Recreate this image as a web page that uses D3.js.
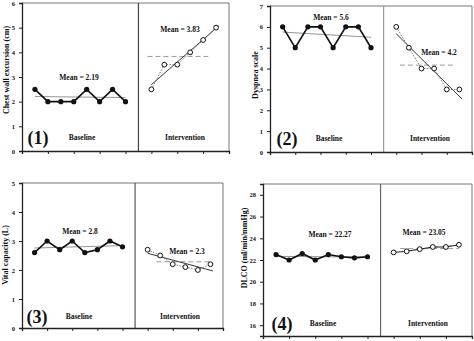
<!DOCTYPE html>
<html><head><meta charset="utf-8">
<script src="https://cdn.jsdelivr.net/npm/d3@7"></script>
<style>body{margin:0;background:#fff}svg{display:block}text{font-family:"Liberation Serif","Times New Roman",serif;font-weight:bold;fill:#111}</style>
</head><body>
<svg id="c" width="474" height="341"></svg>
<script>
// ---- data ----
const baseline1 = [2.5, 2, 2, 2, 2.5, 2, 2.5, 2];
const intervention1 = [2.5, 3.5, 3.5, 4, 4.5, 5];
const baseline2 = [6, 5, 6, 6, 5, 6, 6, 5];
const intervention2 = [6, 5, 4, 4, 3, 3];
const baseline3 = [2.6, 3.0, 2.7, 3.0, 2.6, 2.7, 3.0, 2.8];
const intervention3 = [2.7, 2.5, 2.2, 2.1, 2.0, 2.2];
const baseline4 = [22.5, 22.0, 22.6, 22.0, 22.5, 22.3, 22.2, 22.3];
const intervention4 = [22.7, 22.8, 23.0, 23.2, 23.2, 23.4];
const yTicks1 = [0, 1, 2, 3, 4, 5, 6];
const yTicks2 = [0, 1, 2, 3, 4, 5, 6, 7];
const yTicks3 = [0, 1, 2, 3, 4, 5];
const yTicks4 = [16, 18, 20, 22, 24, 26, 28];
const yLabels = ["Chest wall excursion (cm)", "Dyspnea scale", "Vital capacity (L)", "DLCO (ml/min/mmHg)"];
const meanLabels = [["Mean = 2.19", "Mean = 3.83"], ["Mean = 5.6", "Mean = 4.2"], ["Mean = 2.8", "Mean = 2.3"], ["Mean = 22.27", "Mean = 23.05"]];
const panelNames = ["(1)", "(2)", "(3)", "(4)"];
const phaseNames = ["Baseline", "Intervention"];
const xTicks = [0, 2, 4, 6, 8, 10, 12, 14, 16];

// ---- layout ----
const panels = [
  {b: baseline1, v: intervention1, ticks: yTicks1, dom: [0, 6], L: 22, R: 229, T: 3, B: 151, labX: 7, labY: 70,
   m1: [79, 80], m2: [180, 32], tag: [38, 144], ph: [82, 185, 140], meanExt: [9.7, 14.4], conn: "dot", div: "#444"},
  {b: baseline2, v: intervention2, ticks: yTicks2, dom: [0, 7], L: 270, R: 472, T: 6, B: 152, labX: 256, labY: 75,
   m1: [331, 20], m2: [439, 55], tag: [287, 145], ph: [329, 430, 141], meanExt: [10.3, 14.6], conn: "dot", div: "#999"},
  {b: baseline3, v: intervention3, ticks: yTicks3, dom: [0, 5], L: 22, R: 223, T: 183, B: 328, labX: 6, labY: 255,
   m1: [80, 234], m2: [187, 254], tag: [37, 323], ph: [79, 180, 319], meanExt: [10.7, 15], conn: "dot", div: "#555"},
  {b: baseline4, v: intervention4, ticks: yTicks4, dom: [15, 29], L: 263, R: 472, T: 184, B: 336, labX: 245, labY: 248,
   m1: [330, 237], m2: [424, 235], tag: [282, 330], ph: [323, 428, 326], meanExt: [10.5, 15], conn: "solid", div: "#666"}
];

const svg = d3.select("#c");

function regress(xs, ys) {
  const mx = d3.mean(xs), my = d3.mean(ys);
  let sxy = 0, sxx = 0;
  xs.forEach((x, i) => { sxy += (x - mx) * (ys[i] - my); sxx += (x - mx) * (x - mx); });
  const s = sxy / sxx;
  return x => my + s * (x - mx);
}

panels.forEach((p, k) => {
  const g = svg.append("g");
  const x = d3.scaleLinear().domain([0, 16]).range([p.L, p.R]);
  const y = d3.scaleLinear().domain(p.dom).range([p.B, p.T]);
  const bx = p.b.map((_, i) => i + 1), vx = p.v.map((_, i) => i + 10);

  // frame
  g.append("path").attr("d", `M${p.L},${p.T}H${p.R}V${p.B}`).attr("fill", "none").attr("stroke", "#777").attr("stroke-width", 1);
  g.append("line").attr("x1", x(9)).attr("x2", x(9)).attr("y1", p.T).attr("y2", p.B).attr("stroke", p.div).attr("stroke-width", 1.2);

  // axes
  const ya = d3.axisLeft(y).tickValues(p.ticks).tickFormat(d3.format("d")).tickSize(3).tickPadding(4);
  const yg = g.append("g").attr("transform", `translate(${p.L},0)`).call(ya);
  yg.attr("font-family", null);
  yg.select(".domain").attr("stroke", "#222").attr("stroke-width", 1.3);
  yg.selectAll("text").style("font-size", "6.5px");
  yg.selectAll("line").attr("stroke", "#222");
  const xa = d3.axisBottom(x).tickValues(xTicks).tickSize(3).tickFormat("");
  const xg = g.append("g").attr("transform", `translate(0,${p.B})`).call(xa);
  xg.select(".domain").attr("stroke", "#222").attr("stroke-width", 1.3);
  xg.selectAll("line").attr("stroke", "#222");

  // y label
  g.append("text").attr("transform", `translate(${p.labX},${p.labY}) rotate(-90)`).attr("text-anchor", "middle")
    .attr("dominant-baseline", "middle").style("font-size", "8px").text(yLabels[k]);

  // baseline trend
  const fb = regress(bx, p.b);
  g.append("line").attr("x1", x(1)).attr("x2", x(8)).attr("y1", y(fb(1))).attr("y2", y(fb(8)))
    .attr("stroke", "#888").attr("stroke-width", 0.9);
  // intervention mean
  const mv = d3.mean(p.v);
  g.append("line").attr("x1", x(p.meanExt[0])).attr("x2", x(p.meanExt[1])).attr("y1", y(mv)).attr("y2", y(mv))
    .attr("stroke", "#999").attr("stroke-width", 1).attr("stroke-dasharray", "5,3");
  // intervention trend
  const fv = regress(vx, p.v);
  if (p.conn === "dot") {
    g.append("line").attr("x1", x(10)).attr("x2", x(15.2)).attr("y1", y(fv(10))).attr("y2", y(fv(15.2)))
      .attr("stroke", "#222").attr("stroke-width", 0.9);
  } else {
    g.append("line").attr("x1", x(11)).attr("x2", x(15)).attr("y1", y(fv(11))).attr("y2", y(fv(15)))
      .attr("stroke", "#aaa").attr("stroke-width", 0.9).attr("stroke-dasharray", "4,3");
  }

  // baseline line + points
  const line = d3.line().x(d => x(d[0])).y(d => y(d[1]));
  g.append("path").attr("d", line(bx.map((d, i) => [d, p.b[i]]))).attr("fill", "none").attr("stroke", "#111").attr("stroke-width", 1.6);
  g.selectAll(".bp").data(p.b).enter().append("circle").attr("cx", (d, i) => x(i + 1)).attr("cy", d => y(d))
    .attr("r", 2.6).attr("fill", "#111");

  // intervention line + points
  g.append("path").attr("d", line(vx.map((d, i) => [d, p.v[i]]))).attr("fill", "none")
    .attr("stroke", p.conn === "dot" ? "#555" : "#222").attr("stroke-width", p.conn === "dot" ? 0.8 : 1)
    .attr("stroke-dasharray", p.conn === "dot" ? "1.5,1.5" : null);
  g.selectAll(".vp").data(p.v).enter().append("circle").attr("cx", (d, i) => x(i + 10)).attr("cy", d => y(d))
    .attr("r", 2.4).attr("fill", "#fff").attr("stroke", "#111").attr("stroke-width", 1);

  // texts
  g.append("text").attr("x", p.m1[0]).attr("y", p.m1[1]).attr("text-anchor", "middle").style("font-size", "7.5px").text(meanLabels[k][0]);
  g.append("text").attr("x", p.m2[0]).attr("y", p.m2[1]).attr("text-anchor", "middle").style("font-size", "7.5px").text(meanLabels[k][1]);
  g.append("text").attr("x", p.tag[0]).attr("y", p.tag[1]).attr("text-anchor", "middle").style("font-size", "18px").text(panelNames[k]);
  g.append("text").attr("x", p.ph[0]).attr("y", p.ph[2]).attr("text-anchor", "middle").style("font-size", "7.5px").text(phaseNames[0]);
  g.append("text").attr("x", p.ph[1]).attr("y", p.ph[2]).attr("text-anchor", "middle").style("font-size", "7.5px").text(phaseNames[1]);
});
</script>
</body></html>
